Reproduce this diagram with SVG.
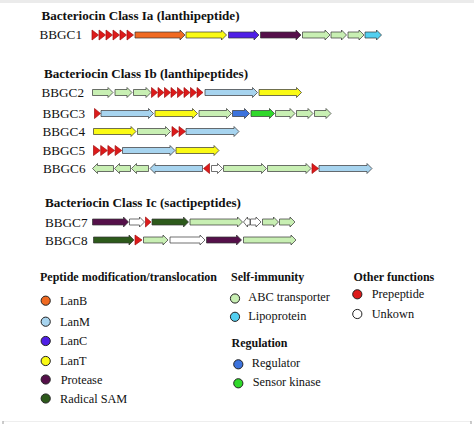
<svg xmlns="http://www.w3.org/2000/svg" width="474" height="424" viewBox="0 0 474 424">
<style>
.t{font-family:"Liberation Serif","Times New Roman",serif;font-weight:bold;font-size:13px;fill:#111}
.h{font-family:"Liberation Serif","Times New Roman",serif;font-weight:bold;font-size:12px;fill:#111}
.l{font-family:"Liberation Serif","Times New Roman",serif;font-size:13.2px;fill:#111}
.k{font-family:"Liberation Serif","Times New Roman",serif;font-size:12.3px;fill:#111}
polygon{stroke:#333;stroke-width:0.7;stroke-linejoin:miter}
circle{stroke:#222;stroke-width:1}
.lanB{fill:#F06A22}.lanM{fill:#A7D4EF}.lanC{fill:#4F1FE6}.lanT{fill:#FAFA14}
.prot{fill:#55104A}.sam{fill:#2D5A1B}.abc{fill:#C8EFB3}.lipo{fill:#52CFF0}
.reg{fill:#3C73DD}.sens{fill:#2FD82A}.pre{fill:#DD1A1A;stroke:#A01010}.unk{fill:#fff}
</style>
<rect x="0" y="0" width="474" height="424" fill="#fff"/>
<rect x="0" y="0" width="474" height="3" fill="#ebebeb"/>
<line x1="3" y1="421.5" x2="471" y2="421.5" stroke="#eeeeee" stroke-width="1"/>
<line x1="3" y1="421" x2="3" y2="424" stroke="#999" stroke-width="1"/>
<line x1="471" y1="421" x2="471" y2="424" stroke="#999" stroke-width="1"/>

<g id="titles">
<text class="t" x="41.5" y="20" textLength="198" lengthAdjust="spacingAndGlyphs">Bacteriocin Class Ia (lanthipeptide)</text>
<text class="t" x="44" y="77.5" textLength="204" lengthAdjust="spacingAndGlyphs">Bacteriocin Class Ib (lanthipeptides)</text>
<text class="t" x="45" y="207" textLength="196" lengthAdjust="spacingAndGlyphs">Bacteriocin Class Ic (sactipeptides)</text>
</g>

<g id="BBGC1">
<text class="l" x="39.5" y="39">BBGC1</text>
<polygon class="pre" points="92,30 98.5,35 92,40"/>
<polygon class="pre" points="99,30 105.5,35 99,40"/>
<polygon class="pre" points="106,30 112.5,35 106,40"/>
<polygon class="pre" points="113,30 119.5,35 113,40"/>
<polygon class="pre" points="120,30 126.5,35 120,40"/>
<polygon class="pre" points="127,30 133.5,35 127,40"/>
<polygon class="lanB" points="135,32 180,32 180,30 185,35 180,40 180,38 135,38"/>
<polygon class="lanT" points="186,32 221.5,32 221.5,30 226.5,35 221.5,40 221.5,38 186,38"/>
<polygon class="lanC" points="228.5,32 254,32 254,30 259,35 254,40 254,38 228.5,38"/>
<polygon class="prot" points="260.5,32 296,32 296,30 301,35 296,40 296,38 260.5,38"/>
<polygon class="abc" points="302.5,32 325,32 325,30 330,35 325,40 325,38 302.5,38"/>
<polygon class="abc" points="331,32 341.5,32 341.5,30 346.5,35 341.5,40 341.5,38 331,38"/>
<polygon class="abc" points="348,32 359,32 359,30 364,35 359,40 359,38 348,38"/>
<polygon class="lipo" points="365,32 376.5,32 376.5,30 381.5,35 376.5,40 376.5,38 365,38"/>
</g>

<g id="BBGC2">
<text class="l" x="41.5" y="97">BBGC2</text>
<polygon class="abc" points="92.5,89.5 108,89.5 108,87.5 113,92.5 108,97.5 108,95.5 92.5,95.5"/>
<polygon class="abc" points="115,89.5 127,89.5 127,87.5 132,92.5 127,97.5 127,95.5 115,95.5"/>
<polygon class="abc" points="133.5,89.5 146,89.5 146,87.5 151,92.5 146,97.5 146,95.5 133.5,95.5"/>
<polygon class="pre" points="151.5,87.5 157.5,92.5 151.5,97.5"/>
<polygon class="pre" points="158,87.5 164,92.5 158,97.5"/>
<polygon class="pre" points="164.5,87.5 170.5,92.5 164.5,97.5"/>
<polygon class="pre" points="171,87.5 177,92.5 171,97.5"/>
<polygon class="pre" points="177.5,87.5 183.5,92.5 177.5,97.5"/>
<polygon class="pre" points="184,87.5 190,92.5 184,97.5"/>
<polygon class="pre" points="190.5,87.5 196.5,92.5 190.5,97.5"/>
<polygon class="pre" points="197,87.5 203,92.5 197,97.5"/>
<polygon class="lanM" points="205,89.5 252.5,89.5 252.5,87.5 257.5,92.5 252.5,97.5 252.5,95.5 205,95.5"/>
<polygon class="lanT" points="259,89.5 296.5,89.5 296.5,87.5 301.5,92.5 296.5,97.5 296.5,95.5 259,95.5"/>
</g>

<g id="BBGC3">
<text class="l" x="42.5" y="118">BBGC3</text>
<polygon class="pre" points="94.5,108.5 100.5,113.5 94.5,118.5"/>
<polygon class="lanM" points="101,110.5 148.5,110.5 148.5,108.5 153.5,113.5 148.5,118.5 148.5,116.5 101,116.5"/>
<polygon class="lanT" points="155,110.5 192.5,110.5 192.5,108.5 197.5,113.5 192.5,118.5 192.5,116.5 155,116.5"/>
<polygon class="abc" points="199,110.5 226.5,110.5 226.5,108.5 231.5,113.5 226.5,118.5 226.5,116.5 199,116.5"/>
<polygon class="reg" points="232.5,110.5 244.5,110.5 244.5,108.5 249.5,113.5 244.5,118.5 244.5,116.5 232.5,116.5"/>
<polygon class="sens" points="251,110.5 269.5,110.5 269.5,108.5 274.5,113.5 269.5,118.5 269.5,116.5 251,116.5"/>
<polygon class="abc" points="275.5,110.5 290,110.5 290,108.5 295,113.5 290,118.5 290,116.5 275.5,116.5"/>
<polygon class="abc" points="296.5,110.5 308,110.5 308,108.5 313,113.5 308,118.5 308,116.5 296.5,116.5"/>
<polygon class="abc" points="314.5,110.5 326,110.5 326,108.5 331,113.5 326,118.5 326,116.5 314.5,116.5"/>
</g>

<g id="BBGC4">
<text class="l" x="42.5" y="136">BBGC4</text>
<polygon class="lanT" points="93.5,128.5 131,128.5 131,126.5 136,131.5 131,136.5 131,134.5 93.5,134.5"/>
<polygon class="abc" points="137.5,128.5 165.5,128.5 165.5,126.5 170.5,131.5 165.5,136.5 165.5,134.5 137.5,134.5"/>
<polygon class="pre" points="172,126.5 178.5,131.5 172,136.5"/>
<polygon class="pre" points="179,126.5 185.5,131.5 179,136.5"/>
<polygon class="lanM" points="186,128.5 234,128.5 234,126.5 239,131.5 234,136.5 234,134.5 186,134.5"/>
</g>

<g id="BBGC5">
<text class="l" x="42.5" y="155">BBGC5</text>
<polygon class="pre" points="93.5,145.5 100.2,150.5 93.5,155.5"/>
<polygon class="pre" points="100.7,145.5 107.4,150.5 100.7,155.5"/>
<polygon class="pre" points="107.9,145.5 114.6,150.5 107.9,155.5"/>
<polygon class="pre" points="115.1,145.5 121.8,150.5 115.1,155.5"/>
<polygon class="lanM" points="122.5,147.5 170,147.5 170,145.5 175,150.5 170,155.5 170,153.5 122.5,153.5"/>
<polygon class="lanT" points="176,147.5 214,147.5 214,145.5 219,150.5 214,155.5 214,153.5 176,153.5"/>
</g>

<g id="BBGC6">
<text class="l" x="43" y="173">BBGC6</text>
<polygon class="abc" points="113.5,165.5 97.5,165.5 97.5,163.5 92.5,168.5 97.5,173.5 97.5,171.5 113.5,171.5"/>
<polygon class="abc" points="130.5,165.5 119.5,165.5 119.5,163.5 114.5,168.5 119.5,173.5 119.5,171.5 130.5,171.5"/>
<polygon class="abc" points="148.5,165.5 136.5,165.5 136.5,163.5 131.5,168.5 136.5,173.5 136.5,171.5 148.5,171.5"/>
<polygon class="lanM" points="202.5,165.5 155,165.5 155,163.5 150,168.5 155,173.5 155,171.5 202.5,171.5"/>
<polygon class="pre" points="209.5,163.5 203.5,168.5 209.5,173.5"/>
<polygon class="unk" points="211.5,165.5 217.5,165.5 217.5,163.5 222.5,168.5 217.5,173.5 217.5,171.5 211.5,171.5"/>
<polygon class="abc" points="223.5,165.5 261.5,165.5 261.5,163.5 266.5,168.5 261.5,173.5 261.5,171.5 223.5,171.5"/>
<polygon class="abc" points="267.5,165.5 306,165.5 306,163.5 311,168.5 306,173.5 306,171.5 267.5,171.5"/>
<polygon class="pre" points="312,163.5 318.5,168.5 312,173.5"/>
<polygon class="lanM" points="319,165.5 367,165.5 367,163.5 372,168.5 367,173.5 367,171.5 319,171.5"/>
</g>

<g id="BBGC7">
<text class="l" x="45" y="226.5">BBGC7</text>
<polygon class="prot" points="92.5,219 123.5,219 123.5,217 128.5,222 123.5,227 123.5,225 92.5,225"/>
<polygon class="unk" points="129.5,219 139.5,219 139.5,217 144.5,222 139.5,227 139.5,225 129.5,225"/>
<polygon class="pre" points="145.5,217 151,222 145.5,227"/>
<polygon class="sam" points="152,219 183.5,219 183.5,217 188.5,222 183.5,227 183.5,225 152,225"/>
<polygon class="abc" points="190,219 237.5,219 237.5,217 242.5,222 237.5,227 237.5,225 190,225"/>
<polygon class="unk" points="250,219 247.5,219 247.5,217 243.5,222 247.5,227 247.5,225 250,225"/>
<polygon class="unk" points="250.5,219 256,219 256,217 261,222 256,227 256,225 250.5,225"/>
<polygon class="abc" points="262.5,219 273.5,219 273.5,217 278.5,222 273.5,227 273.5,225 262.5,225"/>
<polygon class="abc" points="279.5,219 290,219 290,217 295,222 290,227 290,225 279.5,225"/>
</g>

<g id="BBGC8">
<text class="l" x="45" y="244.5">BBGC8</text>
<polygon class="sam" points="93.5,237 129,237 129,235 134,240 129,245 129,243 93.5,243"/>
<polygon class="pre" points="135,235 142,240 135,245"/>
<polygon class="abc" points="143.5,237 163,237 163,235 168,240 163,245 163,243 143.5,243"/>
<polygon class="unk" points="170,237 200,237 200,235 205,240 200,245 200,243 170,243"/>
<polygon class="prot" points="206.5,237 236.5,237 236.5,235 241.5,240 236.5,245 236.5,243 206.5,243"/>
<polygon class="abc" points="243.5,237 291,237 291,235 296,240 291,245 291,243 243.5,243"/>
</g>

<g id="legend">
<text class="h" x="40" y="281">Peptide modification/translocation</text>
<text class="h" x="231" y="281">Self-immunity</text>
<text class="h" x="353.5" y="281">Other functions</text>
<text class="h" x="231.5" y="347">Regulation</text>
<circle class="lanB" cx="45.7" cy="300.7" r="4.6"/><text class="k" x="60" y="305">LanB</text>
<circle class="lanM" cx="45.7" cy="321.7" r="4.6"/><text class="k" x="60" y="325.7">LanM</text>
<circle class="lanC" cx="45.7" cy="341" r="4.6"/><text class="k" x="60" y="345">LanC</text>
<circle class="lanT" cx="45.7" cy="361" r="4.6"/><text class="k" x="60" y="365">LanT</text>
<circle class="prot" cx="45.7" cy="379.5" r="4.6"/><text class="k" x="60.7" y="383.5">Protease</text>
<circle class="sam" cx="45.7" cy="398.5" r="4.6"/><text class="k" x="60" y="402.7">Radical SAM</text>
<circle class="abc" cx="235" cy="298.5" r="4.6"/><text class="k" x="248.3" y="301">ABC transporter</text>
<circle class="lipo" cx="235" cy="316.8" r="4.6"/><text class="k" x="248.3" y="319.5">Lipoprotein</text>
<circle class="reg" cx="238.3" cy="364.3" r="4.6"/><text class="k" x="251.7" y="367">Regulator</text>
<circle class="sens" cx="238.3" cy="383.3" r="4.6"/><text class="k" x="252.7" y="386">Sensor kinase</text>
<circle class="pre" cx="357.3" cy="294.3" r="4.6" style="stroke:#222"/><text class="k" x="371.7" y="297.5">Prepeptide</text>
<circle class="unk" cx="357.3" cy="314" r="4.6"/><text class="k" x="371.7" y="317.5">Unkown</text>
</g>
</svg>
